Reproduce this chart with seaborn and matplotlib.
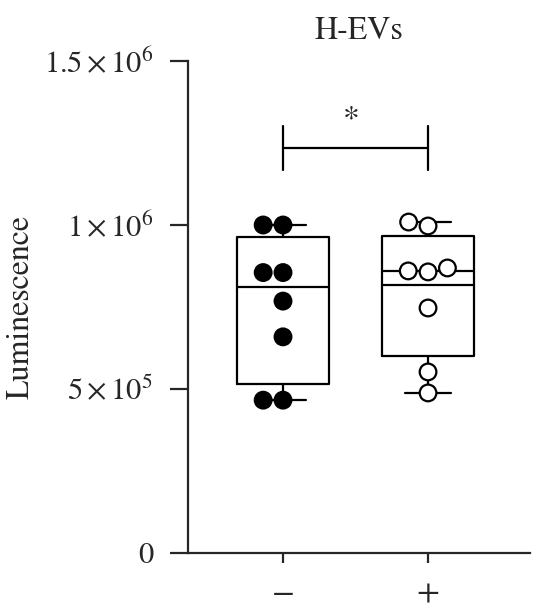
import numpy as np
import pandas as pd
import seaborn as sns
import matplotlib
matplotlib.use("Agg")
from matplotlib import pyplot as plt
from matplotlib.ticker import FixedLocator, FixedFormatter

# values
groups = ["\u2212", "+"]
lum_minus = [1.00e6, 1.00e6, 8.55e5, 8.55e5, 7.68e5, 6.59e5, 4.66e5, 4.66e5]
lum_plus = [1.009e6, 9.97e5, 8.69e5, 8.57e5, 8.60e5, 7.47e5, 5.52e5, 4.88e5]
extra_line_plus = 8.17e5          # second horizontal line drawn in the "+" box
y_ticks = [0, 5e5, 1e6, 1.5e6]
y_tick_labels = ["0", r"$5 \times 10^5$", r"$1 \times 10^6$", r"$1.5 \times 10^6$"]
sig_y = 1.235e6
sig_text = "*"

df = pd.DataFrame({
    "group": [groups[0]] * len(lum_minus) + [groups[1]] * len(lum_plus),
    "value": lum_minus + lum_plus,
})

# box from Prism-style quartiles ((n+1)p rule), whiskers min..max
summ = []
for g, vals in zip(groups, [lum_minus, lum_plus]):
    q = np.percentile(vals, [0, 25, 50, 75, 100], method="weibull")
    for v in q:
        summ.append({"group": g, "value": v})
df_box = pd.DataFrame(summ)

sns.set_theme(style="ticks")
plt.rcParams["font.family"] = ["STIXGeneral", "DejaVu Serif"]
plt.rcParams["mathtext.fontset"] = "stix"
plt.rcParams["axes.linewidth"] = 1.6

fs = 22
fig = plt.figure(figsize=(5.48, 6.16), dpi=100)
ax = fig.add_axes([188 / 548, 63 / 616, (530 - 188) / 548, (553 - 61) / 616])

box_w = 0.63
sns.boxplot(data=df_box, x="group", y="value", order=groups, whis=(0, 100),
            width=box_w, fill=False, color="black", linewidth=1.6, ax=ax)
ax.hlines(extra_line_plus, 1 - box_w / 2, 1 + box_w / 2, color="black", lw=1.6, zorder=3)

sns.swarmplot(data=df, x="group", y="value", order=groups, hue="group",
              palette={groups[0]: "black", groups[1]: "white"},
              size=12, edgecolor="black", linewidth=1.6, legend=False, ax=ax, zorder=4)

# significance bar
tick_h = 6.8e4
ax.plot([0, 1], [sig_y, sig_y], color="black", lw=1.6, clip_on=False)
for xx in [0, 1]:
    ax.plot([xx, xx], [sig_y - tick_h, sig_y + tick_h], color="black", lw=1.6, clip_on=False)
ax.annotate(sig_text, xy=(0.47, sig_y), xytext=(0, 10), textcoords="offset points",
            ha="center", va="bottom", fontsize=fs + 2)

ax.set_xlim(-0.655, 1.703)
ax.set_ylim(0, 1.5e6)
ax.yaxis.set_major_locator(FixedLocator(y_ticks))
ax.yaxis.set_major_formatter(FixedFormatter(y_tick_labels))
ax.tick_params(axis="y", length=13, width=1.6, pad=12, labelsize=fs)
ax.tick_params(axis="x", length=7, width=1.6, pad=12, labelsize=fs + 2)
ax.set_xlabel("")
ax.set_ylabel("Luminescence", fontsize=fs + 1)
ax.yaxis.set_label_coords((36 - 188) / 342, 0.5)
ax.set_title("H-EVs", fontsize=fs + 1, pad=16)
sns.despine(ax=ax)

fig.savefig("out.png", dpi=100)
